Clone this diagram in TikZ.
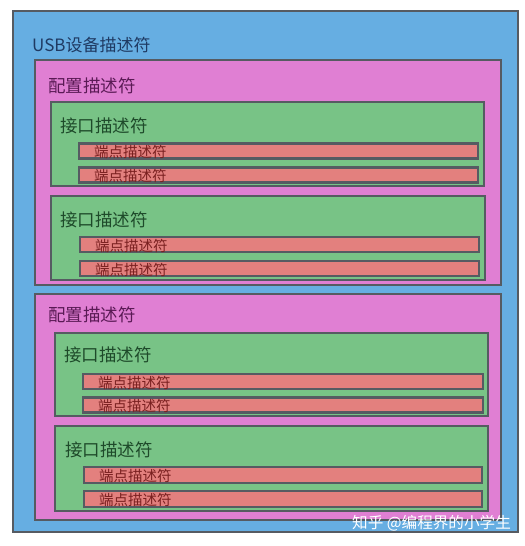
\documentclass[tikz,border=0pt]{standalone}
\usepackage{fontspec}
\setmainfont{Noto Sans CJK SC}
\begin{document}
\begin{tikzpicture}[x=1bp,y=-1bp,
  box/.style={draw=bordc,line width=2.6bp,rectangle,inner sep=0pt,outer sep=0pt,anchor=north west},
  usbbox/.style={box,fill=usbc},
  cfgbox/.style={box,fill=cfgc},
  ifbox/.style={box,fill=ifc},
  epbox/.style={box,fill=epc,line width=2.4bp},
  lbl/.style={anchor=west,inner sep=0pt},
  usblbl/.style={lbl,text=usbt,font=\fontsize{17bp}{20bp}\selectfont},
  cfglbl/.style={lbl,text=cfgt,font=\fontsize{17.5bp}{20bp}\selectfont},
  iflbl/.style={lbl,text=ift,font=\fontsize{17.5bp}{20bp}\selectfont},
  eplbl/.style={lbl,text=ept,font=\fontsize{14.5bp}{16bp}\selectfont},
  wm/.style={lbl,text=white,font=\fontsize{15.6bp}{17bp}\selectfont}]
\definecolor{usbc}{HTML}{66AEE2}
\definecolor{cfgc}{HTML}{E07FD3}
\definecolor{ifc}{HTML}{78C386}
\definecolor{epc}{HTML}{E3807E}
\definecolor{bordc}{HTML}{565B62}
\definecolor{usbt}{HTML}{1F3A62}
\definecolor{cfgt}{HTML}{5A1A55}
\definecolor{ift}{HTML}{1E4A2A}
\definecolor{ept}{HTML}{7A2020}
\useasboundingbox (0,0) rectangle (525,546);
\fill[white] (0,0) rectangle (525,546);
% outer
\node[usbbox,minimum width=505bp,minimum height=521bp] (usb) at (13,11) {};
\node[usblbl] (usbl) at (32,45) {USB设备描述符};
% config 1
\node[cfgbox,minimum width=466bp,minimum height=225bp] (cfg1) at (35,60) {};
\node[cfglbl] (cfg1l) at (48,86) {配置描述符};
\node[ifbox,minimum width=433bp,minimum height=84bp] (if1a) at (51,102) {};
\node[iflbl] (if1al) at (60,126) {接口描述符};
\node[epbox,minimum width=399bp,minimum height=15bp] (ep1a1) at (79,143.5) {};
\node[eplbl] (ep1a1l) at (94,152) {端点描述符};
\node[epbox,minimum width=399bp,minimum height=15bp] (ep1a2) at (79,167.5) {};
\node[eplbl] (ep1a2l) at (94,176) {端点描述符};
\node[ifbox,minimum width=434bp,minimum height=84bp] (if1b) at (51,196) {};
\node[iflbl] (if1bl) at (60,220) {接口描述符};
\node[epbox,minimum width=399bp,minimum height=15bp] (ep1b1) at (80,237) {};
\node[eplbl] (ep1b1l) at (95,245.5) {端点描述符};
\node[epbox,minimum width=399bp,minimum height=15bp] (ep1b2) at (80,261) {};
\node[eplbl] (ep1b2l) at (95,269.5) {端点描述符};
% config 2
\node[cfgbox,minimum width=466bp,minimum height=226bp] (cfg2) at (35,294) {};
\node[cfglbl] (cfg2l) at (48,315) {配置描述符};
\node[ifbox,minimum width=433bp,minimum height=83bp] (if2a) at (55,333) {};
\node[iflbl] (if2al) at (64,355) {接口描述符};
\node[epbox,minimum width=400bp,minimum height=15bp] (ep2a1) at (83,374) {};
\node[eplbl] (ep2a1l) at (98,382.5) {端点描述符};
\node[epbox,minimum width=400bp,minimum height=15bp] (ep2a2) at (83,397.5) {};
\node[eplbl] (ep2a2l) at (98,406) {端点描述符};
\node[ifbox,minimum width=433bp,minimum height=85bp] (if2b) at (55,426) {};
\node[iflbl] (if2bl) at (65,450) {接口描述符};
\node[epbox,minimum width=398bp,minimum height=16bp] (ep2b1) at (84,467) {};
\node[eplbl] (ep2b1l) at (99,476) {端点描述符};
\node[epbox,minimum width=398bp,minimum height=16bp] (ep2b2) at (84,491) {};
\node[eplbl] (ep2b2l) at (99,500) {端点描述符};
% watermark
\node[wm] (wmk) at (352,523) {知乎 @编程界的小学生};
\end{tikzpicture}
\end{document}
